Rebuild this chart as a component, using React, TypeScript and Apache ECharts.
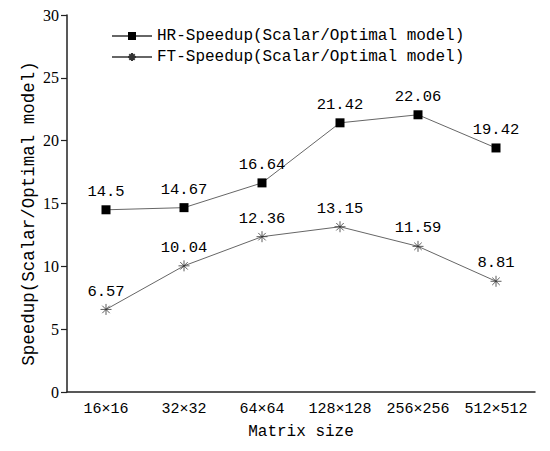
import React, { useEffect, useRef } from "react";
import * as echarts from "echarts";

const categories = ["16×16", "32×32", "64×64", "128×128", "256×256", "512×512"];
const hrSpeedup = [14.5, 14.67, 16.64, 21.42, 22.06, 19.42];
const ftSpeedup = [6.57, 10.04, 12.36, 13.15, 11.59, 8.81];
const seriesNames = [
  "HR-Speedup(Scalar/Optimal model)",
  "FT-Speedup(Scalar/Optimal model)",
];

const MONO = "Liberation Mono";
const SERIF = "Liberation Serif";
const STAR = "path://M0,5 L10,5 M5,0 L5,10 M1.6,1.6 L8.4,8.4 M8.4,1.6 L1.6,8.4";

export default function App() {
  const ref = useRef<HTMLDivElement>(null);
  useEffect(() => {
    if (!ref.current) return;
    const chart = echarts.init(ref.current, undefined, { renderer: "svg" });
    chart.setOption({
      animation: false,
      backgroundColor: "#fff",
      textStyle: { fontFamily: MONO, color: "#000" },
      grid: { left: 67, right: 15, top: 15, bottom: 59, containLabel: false },
      legend: {
        orient: "vertical",
        left: 106,
        top: 23,
        itemWidth: 40,
        itemHeight: 10,
        itemGap: 5,
        textStyle: { fontFamily: MONO, fontSize: 16, color: "#000" },
        data: seriesNames,
      },
      xAxis: {
        type: "category",
        data: categories,
        boundaryGap: true,
        name: "Matrix size",
        nameLocation: "middle",
        nameGap: 32,
        nameTextStyle: { fontFamily: MONO, fontSize: 16, color: "#000" },
        axisLine: { lineStyle: { color: "#222", width: 1.5 } },
        axisTick: { inside: true, alignWithLabel: true, length: 6, lineStyle: { color: "#222", width: 1.2 } },
        axisLabel: { interval: 0, fontFamily: MONO, fontSize: 15, color: "#000", margin: 10 },
        splitLine: { show: false },
      },
      yAxis: {
        type: "value",
        min: 0,
        max: 30,
        interval: 5,
        name: "Speedup(Scalar/Optimal model)",
        nameLocation: "middle",
        nameGap: 29,
        nameMoveOverlap: false,
        nameTextStyle: { fontFamily: MONO, fontSize: 17.5, color: "#000", padding: [0, 20, 0, 0] },
        axisLine: { show: true, lineStyle: { color: "#222", width: 1.5 } },
        axisTick: { show: true, length: 6, lineStyle: { color: "#222", width: 1.2 } },
        axisLabel: { fontFamily: SERIF, fontSize: 16, color: "#000", margin: 8 },
        splitLine: { show: false },
      },
      series: [
        {
          name: seriesNames[0],
          type: "line",
          data: hrSpeedup,
          symbol: "rect",
          symbolSize: 9,
          lineStyle: { color: "#666", width: 1 },
          itemStyle: { color: "#000" },
          label: {
            show: true,
            position: "top",
            distance: 5,
            fontFamily: MONO,
            fontSize: 15.5,
            color: "#000",
          },
        },
        {
          name: seriesNames[1],
          type: "line",
          data: ftSpeedup,
          symbol: STAR,
          symbolSize: 11,
          lineStyle: { color: "#666", width: 1 },
          itemStyle: { color: "#fff", borderColor: "#333", borderWidth: 0.8 },
          label: {
            show: true,
            position: "top",
            distance: 4,
            fontFamily: MONO,
            fontSize: 15.5,
            color: "#000",
          },
        },
      ],
    });
    return () => chart.dispose();
  }, []);
  return (
    <div
      ref={ref}
      style={{ position: "fixed", left: 0, top: 0, width: 550, height: 451 }}
    />
  );
}
